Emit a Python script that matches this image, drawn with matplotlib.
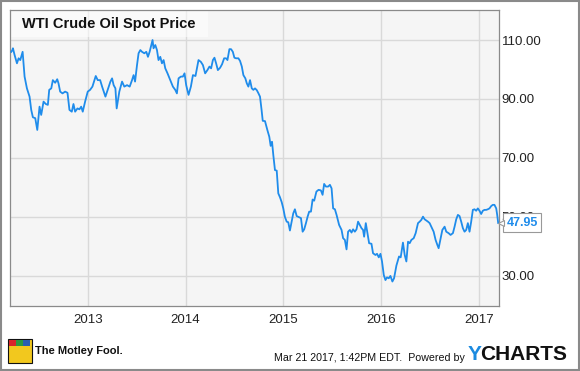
import matplotlib

matplotlib.use("Agg")
import matplotlib.pyplot as plt
from matplotlib.patches import Rectangle
from matplotlib.transforms import offset_copy

plt.rcParams["font.family"] = ["Liberation Sans", "DejaVu Sans"]

LINE_BLUE = "#1f8ceb"
GRID = "#d9d9d9"
FRAME = "#8a8a8a"

# decimal year of each sample
years = [
    2012.218, 2012.229, 2012.235, 2012.252, 2012.276, 2012.293, 2012.310, 2012.334,
    2012.354, 2012.378, 2012.405, 2012.422, 2012.439, 2012.463, 2012.484, 2012.507,
    2012.524, 2012.548, 2012.571, 2012.592, 2012.606, 2012.627, 2012.643, 2012.667,
    2012.688, 2012.701, 2012.718, 2012.742, 2012.769, 2012.793, 2012.813, 2012.837,
    2012.854, 2012.871, 2012.895, 2012.915, 2012.933, 2012.949, 2012.973, 2013.000,
    2013.024, 2013.048, 2013.082, 2013.102, 2013.127, 2013.147, 2013.181, 2013.204,
    2013.232, 2013.249, 2013.265, 2013.283, 2013.296, 2013.323, 2013.351, 2013.374,
    2013.402, 2013.429, 2013.453, 2013.469, 2013.484, 2013.504, 2013.520, 2013.538,
    2013.555, 2013.579, 2013.599, 2013.616, 2013.633, 2013.650, 2013.663, 2013.673,
    2013.691, 2013.708, 2013.724, 2013.742, 2013.759, 2013.776, 2013.793, 2013.816,
    2013.844, 2013.871, 2013.895, 2013.912, 2013.929, 2013.953, 2013.973, 2013.990,
    2014.007, 2014.031, 2014.055, 2014.076, 2014.102, 2014.133, 2014.157, 2014.178,
    2014.201, 2014.224, 2014.245, 2014.262, 2014.280, 2014.296, 2014.313, 2014.331,
    2014.354, 2014.374, 2014.395, 2014.415, 2014.429, 2014.449, 2014.466, 2014.484,
    2014.500, 2014.517, 2014.541, 2014.558, 2014.576, 2014.592, 2014.612, 2014.627,
    2014.643, 2014.660, 2014.678, 2014.694, 2014.711, 2014.729, 2014.745, 2014.762,
    2014.778, 2014.790, 2014.813, 2014.837, 2014.857, 2014.871, 2014.885, 2014.898,
    2014.915, 2014.933, 2014.949, 2014.966, 2014.984, 2015.000, 2015.017, 2015.035,
    2015.051, 2015.068, 2015.086, 2015.102, 2015.119, 2015.137, 2015.163, 2015.181,
    2015.198, 2015.214, 2015.232, 2015.249, 2015.265, 2015.283, 2015.300, 2015.316,
    2015.339, 2015.361, 2015.385, 2015.402, 2015.418, 2015.436, 2015.459, 2015.477,
    2015.494, 2015.510, 2015.528, 2015.545, 2015.571, 2015.596, 2015.612, 2015.630,
    2015.647, 2015.663, 2015.681, 2015.698, 2015.714, 2015.732, 2015.749, 2015.765,
    2015.783, 2015.800, 2015.816, 2015.827, 2015.844, 2015.861, 2015.878, 2015.902,
    2015.918, 2015.943, 2015.959, 2015.977, 2015.994, 2016.010, 2016.028, 2016.045,
    2016.061, 2016.079, 2016.096, 2016.116, 2016.133, 2016.157, 2016.184, 2016.201,
    2016.224, 2016.242, 2016.259, 2016.276, 2016.293, 2016.310, 2016.334, 2016.354,
    2016.378, 2016.395, 2016.412, 2016.429, 2016.446, 2016.463, 2016.480, 2016.497,
    2016.514, 2016.538, 2016.558, 2016.576, 2016.589, 2016.606, 2016.627, 2016.650,
    2016.667, 2016.691, 2016.711, 2016.735, 2016.752, 2016.769, 2016.786, 2016.803,
    2016.820, 2016.837, 2016.854, 2016.871, 2016.888, 2016.905, 2016.922, 2016.939,
    2016.956, 2016.973, 2016.990, 2017.007, 2017.024, 2017.041, 2017.058, 2017.076,
    2017.092, 2017.109, 2017.127, 2017.143, 2017.160, 2017.178, 2017.188, 2017.198,
]

# WTI spot price, $/bbl
prices = [
    106.0, 106.6, 107.2, 104.9, 102.1, 103.8, 103.2, 106.0,
    97.6, 93.6, 90.8, 86.3, 83.8, 83.5, 79.5, 87.4,
    84.6, 89.1, 88.3, 88.0, 93.1, 93.6, 96.4, 95.5,
    96.7, 95.3, 92.5, 91.9, 92.5, 92.1, 86.3, 85.7,
    88.3, 85.7, 86.8, 86.5, 87.4, 85.7, 89.1, 92.5,
    93.1, 94.2, 97.8, 96.4, 96.4, 94.2, 90.8, 93.1,
    95.9, 97.0, 94.7, 93.6, 86.8, 92.5, 95.9, 94.2,
    94.7, 94.2, 96.4, 98.1, 95.9, 101.5, 105.5, 106.6,
    106.0, 105.5, 106.0, 104.3, 106.0, 108.3, 110.0, 107.2,
    108.3, 106.6, 103.2, 104.3, 102.1, 103.2, 100.4, 98.7,
    96.4, 94.2, 93.1, 91.9, 97.0, 97.6, 97.6, 98.7,
    94.7, 91.4, 94.2, 98.1, 97.8, 103.2, 102.6, 101.5,
    98.7, 99.8, 101.0, 100.4, 103.2, 104.0, 102.1, 99.8,
    100.6, 101.8, 103.8, 103.8, 103.2, 106.9, 106.9, 106.0,
    104.0, 103.8, 103.8, 102.9, 101.0, 98.1, 97.0, 95.3,
    94.2, 96.4, 93.6, 93.1, 93.6, 93.0, 92.0, 90.8,
    86.3, 82.6, 82.5, 79.5, 77.2, 74.1, 75.5, 71.0,
    65.9, 65.7, 58.0, 56.7, 55.0, 52.9, 50.0, 48.4,
    48.2, 45.4, 48.4, 51.2, 52.6, 50.3, 49.9, 49.6,
    45.0, 45.8, 47.9, 50.1, 51.8, 51.8, 55.9, 55.5,
    58.6, 59.2, 59.0, 57.5, 61.2, 60.3, 60.3, 60.9,
    59.7, 52.9, 52.6, 50.7, 47.3, 45.6, 42.8, 42.2,
    39.0, 45.0, 45.6, 44.7, 45.8, 45.0, 45.8, 48.4,
    47.3, 46.2, 45.6, 43.3, 47.9, 44.5, 41.1, 40.9,
    37.7, 37.1, 37.5, 36.3, 37.5, 34.9, 30.3, 28.6,
    29.5, 29.2, 30.0, 28.1, 29.2, 33.5, 36.6, 36.3,
    41.3, 37.1, 34.9, 41.6, 41.1, 42.2, 42.8, 44.5,
    47.9, 48.4, 49.0, 50.1, 49.2, 48.8, 48.4, 47.9,
    46.7, 45.0, 42.2, 40.5, 39.4, 42.2, 45.6, 46.7,
    45.0, 44.5, 43.9, 44.5, 46.7, 49.2, 50.7, 50.3,
    48.4, 46.2, 45.0, 45.6, 47.9, 45.0, 48.4, 52.4,
    52.6, 52.1, 52.9, 52.1, 51.0, 52.1, 52.4, 52.4,
    52.6, 52.9, 53.7, 54.1, 54.1, 52.9, 50.7, 47.95,
]

x_ticks = [2013, 2014, 2015, 2016, 2017]
y_ticks = [30, 50, 70, 90, 110]
title = "WTI Crude Oil Spot Price"
stamp = "Mar 21 2017, 1:42PM EDT.  Powered by"

fig = plt.figure(figsize=(5.8, 3.71), dpi=100)
ax = fig.add_axes([0.0181, 0.1752, 0.842, 0.798])
ax.set_facecolor("#f5f5f5")

ax.plot(years, prices, color=LINE_BLUE, linewidth=1.3, zorder=3)

ax.set_xlim(2012.21, 2017.205)
ax.set_ylim(19.8, 120.2)
ax.set_xticks(x_ticks)
ax.set_xticklabels([str(y) for y in x_ticks])
ax.set_yticks(y_ticks)
ax.set_yticklabels([f"{v:.2f}" for v in y_ticks])
ax.yaxis.tick_right()
ax.tick_params(length=0, labelsize=9.5, colors="#222222")
ax.tick_params(axis="x", pad=6)
ax.tick_params(axis="y", pad=2)
ax.grid(color=GRID, linewidth=1)
ax.set_axisbelow(True)
for s in ax.spines.values():
    s.set_color(FRAME)
    s.set_linewidth(0.9)

# title box in the upper-left corner of the plot
ax.add_patch(Rectangle((0, 0.908), 0.404, 0.092, transform=ax.transAxes,
                       facecolor="white", alpha=0.55, edgecolor="none", zorder=2))
ax.text(0.024, 0.954, title, transform=ax.transAxes, fontsize=10.5,
        fontweight="bold", color="#111111", va="center", ha="left", zorder=4)

# last value callout (covers the 50.00 label, as in the original)
ax.annotate(f"{prices[-1]:.2f}", xy=(years[-1], prices[-1]), xytext=(6.0, 0.3),
            textcoords="offset points", ha="left", va="center", fontsize=9,
            fontweight="bold", color=LINE_BLUE, annotation_clip=False, zorder=6,
            bbox=dict(boxstyle="square,pad=0.25", facecolor="white",
                      edgecolor="#999999", linewidth=0.8))
tip = offset_copy(ax.transData, fig=fig, x=3.2, y=0, units="dots")
ax.plot([years[-1]], [prices[-1]], marker="<", markersize=5, markerfacecolor="white",
        markeredgecolor="#999999", markeredgewidth=0.8, transform=tip,
        clip_on=False, zorder=7)

# footer: logo, stamp, YCHARTS
fig.add_artist(Rectangle((0.014, 0.022), 0.041, 0.064, transform=fig.transFigure,
                         facecolor="#f2c81e", edgecolor="#111111", linewidth=0.8))
for i, c in enumerate(["#d8252a", "#2b9a3f", "#2a5db0"]):
    fig.add_artist(Rectangle((0.016 + i * 0.012, 0.068), 0.011, 0.016,
                             transform=fig.transFigure, facecolor=c, edgecolor="none"))
fig.text(0.061, 0.054, "The Motley Fool.", fontsize=8, fontweight="bold",
         color="#111111", va="center", ha="left")
fig.text(0.802, 0.035, stamp, fontsize=7.7, color="#111111", va="center", ha="right")
fig.text(0.806, 0.044, "Y", fontsize=15, fontweight="bold", color="#1a8ae0",
         va="center", ha="left")
fig.text(0.828, 0.044, "CHARTS", fontsize=15, fontweight="bold", color="#111111",
         va="center", ha="left")

# outer frame of the image
fig.add_artist(Rectangle((0.002, 0.003), 0.996, 0.994, transform=fig.transFigure,
                         fill=False, edgecolor=FRAME, linewidth=1.5))

fig.savefig("out.png", dpi=100)
plt.close(fig)
